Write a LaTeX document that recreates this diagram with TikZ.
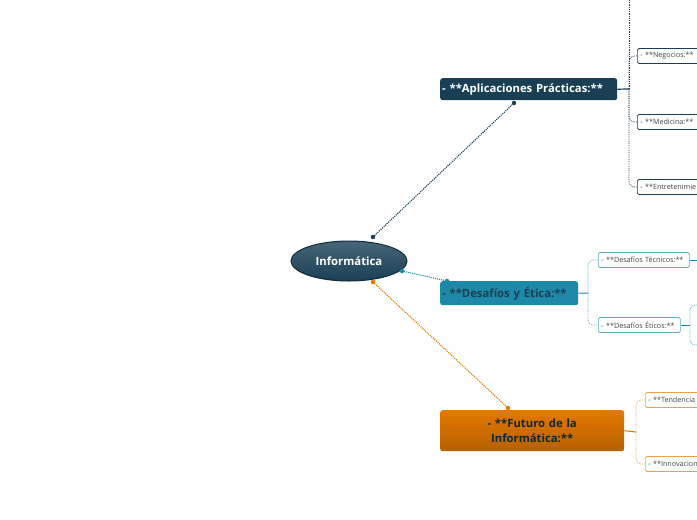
\documentclass[tikz,border=0pt]{standalone}
\usepackage{fontspec}
\setmainfont{Open Sans}
\usetikzlibrary{shapes.geometric}
\definecolor{navy}{HTML}{1A3F55}
\definecolor{teal}{HTML}{1E88A8}
\definecolor{orng}{HTML}{E47800}
\definecolor{txt}{HTML}{444444}
\begin{document}
\begin{tikzpicture}[x=1pt,y=-1pt,
 main/.style={rectangle,rounded corners=2.5pt,font=\bfseries\fontsize{11.3}{15}\selectfont,inner sep=2pt,anchor=north west},
 sub/.style={rectangle,rounded corners=1.5pt,draw,line width=0.7pt,fill=white,font=\fontsize{7.2}{8}\selectfont,text=txt,anchor=west,inner sep=3pt,minimum height=15pt,align=left},
 link/.style={densely dotted,line width=1.1pt},
 br/.style={densely dotted,line width=0.8pt,rounded corners=5pt},
 dot/.style={circle,fill,inner sep=0pt,minimum size=4.5pt}]
\useasboundingbox (0,0) rectangle (697,520);
\fill[white] (0,0) rectangle (697,520);
\begin{scope}
\clip (0,0) rectangle (697,520);
% central
\node[ellipse,draw=navy!70!black,line width=1pt,top color=navy!80,bottom color=navy,minimum width=116pt,minimum height=40pt,text=white,font=\bfseries\fontsize{11.3}{13}\selectfont] (c) at (349,261) {Informática};
% main branches
\node[main,fill=navy,text=white,minimum width=177pt,minimum height=22pt,text width=173pt] (a) at (440,78) {- **Aplicaciones Prácticas:**};
\node[main,fill=teal,text=navy,minimum width=138pt,minimum height=24pt,text width=134pt] (d) at (440,281) {- **Desafíos y Ética:**};
\node[main,top color=orng,bottom color=orng!80!black,text=navy!60!black,minimum width=184pt,minimum height=41pt,text width=180pt,align=center] (f) at (440,410) {- **Futuro de la\\ Informática:**};
% connectors
\coordinate (c1) at (373,237); \coordinate (a1) at (514,103);
\draw[link,navy] (c1) -- (a1);
\node[dot,navy] at (c1) {}; \node[dot,navy] at (a1) {};
\coordinate (c2) at (402,271); \coordinate (d1) at (447,281);
\draw[link,teal] (c2) -- (d1);
\node[dot,teal] at (c2) {}; \node[dot,teal] at (d1) {};
\coordinate (c3) at (373,282); \coordinate (f1) at (508,408);
\draw[link,orng] (c3) -- (f1);
\node[dot,orng] at (c3) {}; \node[dot,orng] at (f1) {};
% Aplicaciones children
\node[sub,draw=navy,text width=64pt] (n1) at (637,56) {- **Negocios:**};
\node[sub,draw=navy,text width=64pt] (n2) at (637,122) {- **Medicina:**};
\node[sub,draw=navy,text width=64pt] (n3) at (637,187) {- **Entretenimie};
\coordinate (aj) at (629,89);
\draw[navy,line width=1.2pt] (a.east) -- (aj);
\draw[br,navy] (aj) -- (629,-10);
\draw[br,navy] (aj) |- (n1.west);
\draw[br,navy] (aj) |- (n2.west);
\draw[br,navy] (aj) |- (n3.west);
% Desafios children
\node[sub,draw=teal!70,text width=85pt] (t1) at (598,260) {- **Desafíos Técnicos:**};
\node[sub,draw=teal!70,text width=76pt] (t2) at (598,325) {- **Desafíos Éticos:**};
\coordinate (dj) at (588,293);
\draw[teal,line width=1pt] (d.east) -- (dj);
\draw[br,teal!70] (dj) |- (t1.west);
\draw[br,teal!70] (dj) |- (t2.west);
\draw[teal,line width=1pt] (t1.east) -- (700,260);
\coordinate (ej) at (690,325);
\draw[teal,line width=1pt] (t2.east) -- (ej);
\draw[br,teal!70] (ej) |- (700,305);
\draw[br,teal!70] (ej) |- (700,345);
% Futuro children
\node[sub,draw=orng!70,text width=64pt] (u1) at (645,400) {- **Tendencia};
\node[sub,draw=orng!70,text width=64pt] (u2) at (645,464) {- **Innovacion};
\coordinate (fj) at (636,432);
\draw[orng,line width=1pt] (f.east) -- (fj);
\draw[br,orng!70] (fj) |- (u1.west);
\draw[br,orng!70] (fj) |- (u2.west);
\end{scope}
\end{tikzpicture}
\end{document}
